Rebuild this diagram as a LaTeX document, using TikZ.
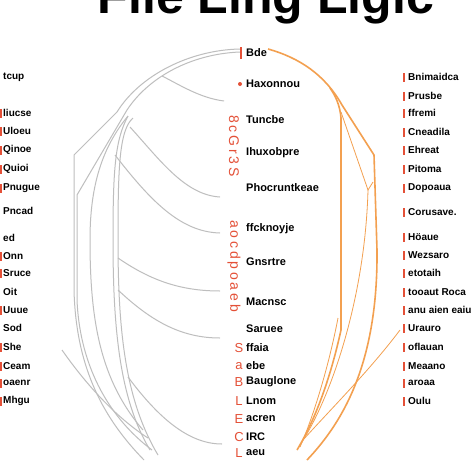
\documentclass[tikz,border=0pt]{standalone}
\usepackage{fontspec}
\setmainfont{Liberation Sans}
\definecolor{lgrey}{RGB}{190,190,190}
\definecolor{lorange}{RGB}{243,160,80}
\definecolor{lred}{RGB}{228,80,55}
\begin{document}
\begin{tikzpicture}[x=1pt,y=-1pt,
	greyline/.style={draw=lgrey,line width=1pt},
	orangeline/.style={draw=lorange,line width=1.6pt},
	thinorange/.style={draw=lorange,line width=0.8pt},
	sidelab/.style={anchor=west,inner sep=0pt,font=\fontsize{10}{10}\selectfont\bfseries},
	midlab/.style={anchor=west,inner sep=0pt,font=\fontsize{11}{11}\selectfont\bfseries},
	redbar/.style={fill=lred,minimum width=2pt,minimum height=9pt,inner sep=0pt},
	redglyph/.style={text=lred,inner sep=0pt,font=\fontsize{13}{13}\selectfont},
	redcolumn/.style={text=lred,inner sep=0pt,rotate=-90,font=\fontsize{14}{14}\selectfont\addfontfeature{LetterSpace=20}}]
	\useasboundingbox (0,0) rectangle (474,474);
	\fill[white] (0,0) rectangle (474,474);
	\clip (0,0) rectangle (474,474);

	% title, cut by the top edge
	\node[anchor=base,inner sep=0pt,font=\fontsize{50}{50}\selectfont\bfseries] (title) at (266,13) {Flle Ling Ligic};

	% grey side
	\draw[greyline] (240,49) .. controls (190,50) and (140,75) .. (117,112) -- (74,155) -- (74,290) .. controls (76,370) and (105,420) .. (144,460);
	\draw[greyline] (240,52) .. controls (190,54) and (148,78) .. (127,110) -- (77,195) -- (77,300) .. controls (80,370) and (112,420) .. (152,450);
	\draw[greyline] (128,116) .. controls (100,150) and (90,190) .. (90,240) .. controls (90,320) and (100,380) .. (143,430);
	\draw[greyline] (128,116) .. controls (115,140) and (113,170) .. (113,240) .. controls (113,330) and (120,400) .. (150,450);
	\draw[greyline] (133,118) .. controls (119,130) and (118,170) .. (118,240) .. controls (118,330) and (125,400) .. (158,455);
	\draw[greyline] (62,350) .. controls (90,390) and (120,420) .. (148,438);
	\draw[greyline] (162,76) .. controls (180,85) and (200,98) .. (224,101);
	\draw[greyline] (130,127) .. controls (160,160) and (185,195) .. (220,197);
	\draw[greyline] (115,155) .. controls (150,200) and (180,232) .. (220,233);
	\draw[greyline] (118,258) .. controls (150,280) and (180,291) .. (220,291);
	\draw[greyline] (118,290) .. controls (150,320) and (180,338) .. (220,338);
	\draw[greyline] (128,377) .. controls (160,420) and (190,444) .. (222,444);

	% orange side
	\draw[orangeline] (268,49) .. controls (300,58) and (325,75) .. (342,105) -- (374,155) -- (377,250) .. controls (378,360) and (345,420) .. (307,460);
	\draw[orangeline] (330,88) .. controls (335,95) and (340,105) .. (341,118) -- (341,330) .. controls (330,380) and (315,420) .. (297,450);
	\draw[thinorange] (338,318) .. controls (328,370) and (312,420) .. (300,447);
	\draw[thinorange] (341,112) -- (368,190) -- (373,182);
	\draw[thinorange] (368,190) .. controls (365,300) and (330,400) .. (300,445);
	\draw[thinorange] (400,330) .. controls (370,370) and (330,410) .. (303,440);

	% middle column
	\node[redbar,minimum height=12pt] (mbar) at (241,53) {};
	\fill[lred] (240,84) circle (2pt);
	\node[redcolumn] (mred1) at (234,146) {8cGr3S};
	\node[redcolumn] (mred2) at (234,266) {aocdpoaeb};
	\foreach \y/\g in {348/S,366/a,382/B,401/L,419/E,437/C,453/L}
		\node[redglyph] at (239,\y) {\g};
	\foreach \y/\t [count=\i] in {53/Bde,84/Haxonnou,120/Tuncbe,153/Ihuxobpre,188/Phocruntkeae,229/ffcknoyje,262/Gnsrtre,302/Macnsc,329/Saruee,348/ffaia,366/ebe,382/Bauglone,401/Lnom,419/acren,437/IRC,453/aeu}
		\node[midlab] (m\i) at (246,\y) {\t};

	% left column
	\foreach \y in {113,131,150,169,188,256,273,310,347,366,383,401}
		\node[redbar] at (1,\y) {};
	\foreach \y/\t [count=\i] in {77/tcup,113/liucse,131/Uloeu,150/Qinoe,169/Quioi,188/Pnugue,211/Pncad,238/ed,256/Onn,273/Sruce,292/Oit,310/Uuue,328/Sod,347/She,366/Ceam,383/oaenr,401/Mhgu}
		\node[sidelab] (l\i) at (3,\y) {\t};

	% right column
	\foreach \y/\t [count=\i] in {77/Bnimaidca,96/Prusbe,113/ffremi,132/Cneadila,150/Ehreat,169/Pitoma,188/Dopoaua,212/Corusave.,237/Höaue,255/Wezsaro,273/etotaih,292/tooaut Roca,310/anu aien eaiu,328/Urauro,347/oflauan,366/Meaano,383/aroaa,401/Oulu}
		{\node[redbar] at (404,\y) {};
		\node[sidelab] (r\i) at (408,\y) {\t};}
\end{tikzpicture}
\end{document}
